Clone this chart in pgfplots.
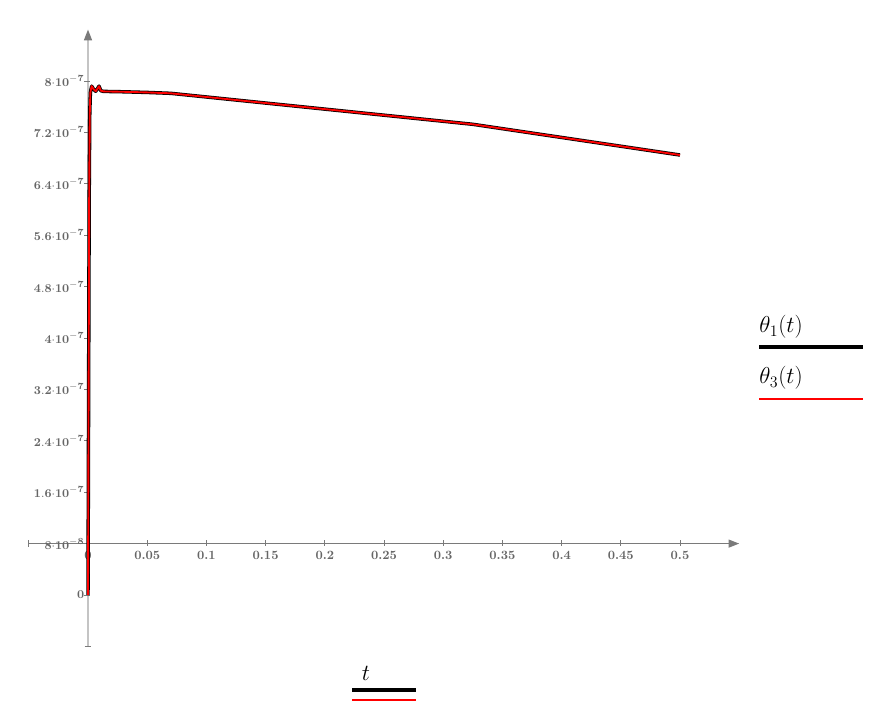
\documentclass[border=0pt]{standalone}
\usepackage{pgfplots}
\pgfplotsset{compat=1.18}
\usepackage{pgfplotstable}
\usetikzlibrary{arrows.meta}
\definecolor{axgray}{HTML}{7A7A7A}
\definecolor{axlight}{HTML}{C4C4C4}
\definecolor{lblgray}{HTML}{666666}
\definecolor{mred}{HTML}{FF0000}

\pgfplotstableread{
t v
0 0
0.0005 3.0e-7
0.001 6.2e-7
0.0015 7.5e-7
0.002 7.82e-7
0.0031 7.92e-7
0.0048 7.87e-7
0.0065 7.84e-7
0.0080 7.88e-7
0.0093 7.92e-7
0.0108 7.85e-7
0.013 7.838e-7
0.03 7.832e-7
0.05 7.822e-7
0.07 7.808e-7
0.325 7.326e-7
0.5 6.848e-7
}\thetaone

\newcommand\ytk[2]{%
  \draw[axgray, line width=0.6pt] ([xshift=-3pt]axis cs:0,#1) -- ([xshift=1.2pt]axis cs:0,#1);
  \node[anchor=east, text=lblgray, font=\fontsize{9.5}{11}\selectfont\bfseries, inner sep=0pt] at ([xshift=-2.6pt]axis cs:0,#1) {#2};}
\newcommand\xtk[2]{%
  \draw[axgray, line width=0.6pt] ([yshift=-1.5pt]axis cs:#1,8e-8) -- ([yshift=3pt]axis cs:#1,8e-8);
  \node[anchor=center, text=lblgray, font=\fontsize{9.5}{11}\selectfont\bfseries, inner sep=0pt] at ([yshift=-9pt]axis cs:#1,8e-8) {#2};}

\begin{document}
\begin{tikzpicture}
\begin{axis}[scale only axis, width=663pt, height=529.5pt,
  xmin=-0.074324, xmax=0.672297, ymin=-1.7276e-7, ymax=9.2607e-7,
  hide axis, clip=false]
\path (rel axis cs:0,0) rectangle (rel axis cs:1,1);
% y axis
\draw[axlight, line width=1pt, -{Triangle[length=8pt,width=6pt,color=axgray]}] (axis cs:0,-8e-8) -- (axis cs:0,8.8e-7);
\draw[axgray, line width=0.6pt] ([xshift=-2.5pt]axis cs:0,-8e-8) -- ([xshift=2.5pt]axis cs:0,-8e-8);
% x axis
\draw[axgray, line width=0.9pt, -{Triangle[length=8pt,width=6pt]}] (axis cs:-0.05,8e-8) -- (axis cs:0.55,8e-8);
\draw[axgray, line width=0.6pt] ([yshift=-2.5pt]axis cs:-0.05,8e-8) -- ([yshift=2.5pt]axis cs:-0.05,8e-8);
\ytk{0}{$\mathbf{0}$}
\ytk{8e-8}{$\mathbf{8{\cdot}10^{-8}}$}
\ytk{1.6e-7}{$\mathbf{1.6{\cdot}10^{-7}}$}
\ytk{2.4e-7}{$\mathbf{2.4{\cdot}10^{-7}}$}
\ytk{3.2e-7}{$\mathbf{3.2{\cdot}10^{-7}}$}
\ytk{4e-7}{$\mathbf{4{\cdot}10^{-7}}$}
\ytk{4.8e-7}{$\mathbf{4.8{\cdot}10^{-7}}$}
\ytk{5.6e-7}{$\mathbf{5.6{\cdot}10^{-7}}$}
\ytk{6.4e-7}{$\mathbf{6.4{\cdot}10^{-7}}$}
\ytk{7.2e-7}{$\mathbf{7.2{\cdot}10^{-7}}$}
\ytk{8e-7}{$\mathbf{8{\cdot}10^{-7}}$}
\xtk{0}{0}
\xtk{0.05}{0.05}
\xtk{0.1}{0.1}
\xtk{0.15}{0.15}
\xtk{0.2}{0.2}
\xtk{0.25}{0.25}
\xtk{0.3}{0.3}
\xtk{0.35}{0.35}
\xtk{0.4}{0.4}
\xtk{0.45}{0.45}
\xtk{0.5}{0.5}
\addplot[black, line width=2.6pt, line join=round] table[x=t,y=v]{\thetaone};
\addplot[mred, line width=1.4pt, line join=round] table[x=t,y=v]{\thetaone};
\end{axis}
\begin{scope}[yshift=529.5pt, x=0.75pt, y=-0.75pt]
\node[anchor=west, inner sep=0pt, font=\fontsize{17}{19}\selectfont] at (759,327) {$\theta_1(t)$};
\draw[black, line width=2.3pt] (759,347) -- (863,347);
\node[anchor=west, inner sep=0pt, font=\fontsize{17}{19}\selectfont] at (759,378) {$\theta_3(t)$};
\draw[mred, line width=1.1pt] (759,399) -- (863,399);
\node[inner sep=0pt, font=\fontsize{17}{19}\selectfont] at (366,673) {$t$};
\draw[black, line width=2.3pt] (352,690) -- (416,690);
\draw[mred, line width=1.1pt] (352,700) -- (416,700);
\end{scope}
\end{tikzpicture}
\end{document}
